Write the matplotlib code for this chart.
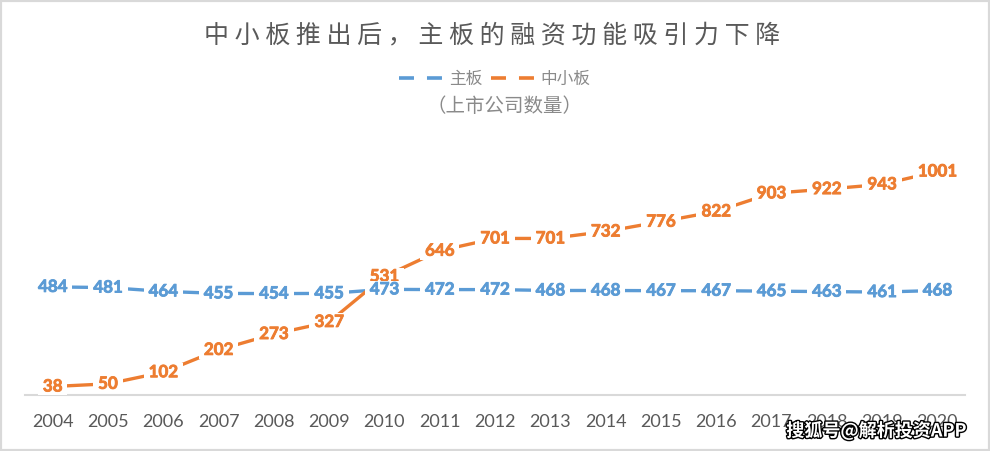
import matplotlib
matplotlib.use("Agg")
import matplotlib.pyplot as plt
import matplotlib.patheffects as pe
from matplotlib.lines import Line2D
from matplotlib.path import Path
from matplotlib.patches import Rectangle

plt.rcParams['font.family'] = ['Noto Sans CJK SC', 'DejaVu Sans']

years = [str(y) for y in range(2004, 2021)]
main_board = [484, 481, 464, 455, 454, 455, 473, 472, 472, 468, 468, 467, 467, 465, 463, 461, 468]
sme_board = [38, 50, 102, 202, 273, 327, 531, 646, 701, 701, 732, 776, 822, 903, 922, 943, 1001]

title = "中小板推出后，主板的融资功能吸引力下降"
subtitle = "（上市公司数量）"
series_names = ["主板", "中小板"]

BLUE = "#5B9BD5"
ORANGE = "#ED7D31"
GRAY = "#595959"
LIGHT_GRAY = "#8A8A8A"


def wide_box(x0, y0, width, height, mutation_size):
    # white label box, wider than tall so the line gets a gap on each side
    px = 0.3 * mutation_size
    py = 0.05 * mutation_size
    verts = [(x0 - px, y0 - py), (x0 + width + px, y0 - py),
             (x0 + width + px, y0 + height + py), (x0 - px, y0 + height + py),
             (x0 - px, y0 - py)]
    return Path(verts, closed=True)


fig = plt.figure(figsize=(9.9, 4.51), dpi=100)
ax = fig.add_axes([25 / 990, 1 - 395 / 451, 940 / 990, 268 / 451])

x = list(range(len(years)))
ax.plot(x, main_board, color=BLUE, lw=2.4, solid_capstyle='butt', zorder=2)
ax.plot(x, sme_board, color=ORANGE, lw=2.4, solid_capstyle='butt', zorder=2)

for vals, col, z in [(sme_board, ORANGE, 3), (main_board, BLUE, 4)]:
    for xi, v in zip(x, vals):
        ax.text(xi, v, str(v), ha='center', va='center', color=col,
                fontsize=12.2, fontweight='bold', family=['Lato', 'DejaVu Sans'],
                bbox=dict(boxstyle=wide_box, fc='white', ec='none'), zorder=z,
                path_effects=[pe.withStroke(linewidth=0.6, foreground=col)])

ax.set_xlim(-0.5, len(years) - 0.5)
ax.set_ylim(0, 1200)
ax.set_xticks(x)
ax.set_xticklabels(years, family=['Lato', 'DejaVu Sans'], fontsize=13, color=GRAY)
ax.tick_params(axis='x', length=0, pad=14)
ax.set_yticks([])
for s in ['left', 'right', 'top']:
    ax.spines[s].set_visible(False)
ax.spines['bottom'].set_color('#D9D9D9')
ax.spines['bottom'].set_linewidth(1.5)

fig.text(0.497, 1 - 35 / 451, " ".join(title), ha='center', va='center',
         fontsize=18, color=GRAY)

handles = [Line2D([], [], color=BLUE, lw=2.6, dashes=(4.15, 3.6)),
           Line2D([], [], color=ORANGE, lw=2.6, dashes=(4.15, 3.6))]
leg = fig.legend(handles, series_names, loc='center', bbox_to_anchor=(0.5, 1 - 79 / 451),
                 ncol=2, frameon=False, fontsize=12, handlelength=2.65,
                 handletextpad=0.35, columnspacing=0.5, labelcolor=LIGHT_GRAY)

fig.text(0.51, 1 - 106 / 451, subtitle, ha='center', va='center',
         fontsize=14, color=LIGHT_GRAY)

fig.text(0.885, 1 - 431 / 451, "搜狐号@解析投资APP", ha='center', va='center',
         fontsize=13, color='white', fontweight='bold',
         path_effects=[pe.withStroke(linewidth=2, foreground='black')])

fig.patches.append(Rectangle((0, 0), 1, 1, transform=fig.transFigure, fill=False,
                             edgecolor='#D9D9D9', lw=3))

fig.savefig("out.png", dpi=100)
